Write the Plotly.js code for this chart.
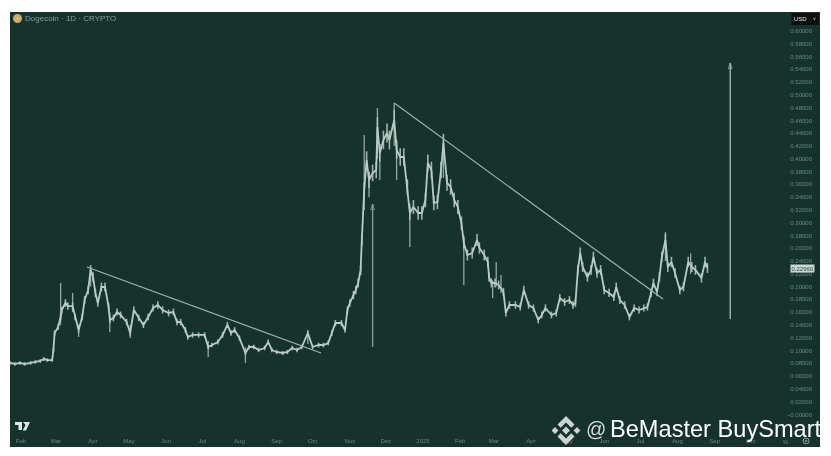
<!DOCTYPE html>
<html>
<head>
<meta charset="utf-8">
<script src="https://cdn.plot.ly/plotly-3.0.1.min.js"></script>
<style>html,body{margin:0;padding:0;background:#fff}#c{width:831px;height:456px;filter:blur(0.45px)}</style>
</head>
<body>
<div id="c"></div>
<script>
// Days counted from 2024-02-01, with the daily price read at that day
const days = [-9,-5,-1,3,8,12,16,19,22,26,27,28,31,33,34,37,39,43,45,48,51,53,56,58,60,62,64,67,70,73,74,77,80,83,88,91,94,98,102,106,110,114,118,123,127,130,133,137,139,143,148,153,156,159,164,168,172,175,178,182,187,190,194,198,203,206,209,213,218,222,226,230,234,239,243,248,252,256,259,262,267,270,272,274,277,279,281,283,284,286,288,290,293,296,297,299,302,305,307,311,313,316,319,322,324,327,331,334,337,339,342,344,347,350,352,355,358,361,364,367,369,372,376,380,382,386,389,390,392,395,398,402,404,407,412,416,419,423,427,431,434,437,442,446,449,453,457,460,462,464,466,468,472,475,477,480,483,486,490,494,496,499,503,507,511,515,519,522,525,527,530,532,534,537,539,542,545,549,552,556,559,562,567,570,572];
const closes = [0.0805,0.0789,0.0805,0.0789,0.0805,0.082,0.0836,0.0867,0.0851,0.0851,0.1008,0.1274,0.1368,0.1524,0.1634,0.1743,0.1696,0.1696,0.1524,0.1321,0.1524,0.179,0.1947,0.226,0.215,0.19,0.1743,0.1994,0.1994,0.1681,0.1477,0.1509,0.1603,0.1556,0.1446,0.1274,0.1634,0.1509,0.14,0.1524,0.1665,0.1712,0.1634,0.1587,0.1603,0.1446,0.1446,0.1321,0.1211,0.1243,0.1243,0.1243,0.1055,0.1086,0.1133,0.1243,0.14,0.1274,0.1321,0.1196,0.0961,0.1055,0.1055,0.1008,0.1039,0.1133,0.1008,0.0977,0.0961,0.0977,0.1039,0.1008,0.1055,0.1274,0.1055,0.1086,0.1086,0.1117,0.1274,0.143,0.143,0.1321,0.1634,0.1743,0.1868,0.1947,0.2056,0.226,0.2729,0.3512,0.3981,0.3668,0.3778,0.3825,0.4497,0.4091,0.4294,0.4404,0.4294,0.4607,0.4137,0.4028,0.4028,0.3559,0.3152,0.3246,0.3152,0.3152,0.3355,0.3934,0.3825,0.3308,0.3324,0.3825,0.4247,0.3622,0.3559,0.3355,0.3246,0.2995,0.2682,0.2494,0.2526,0.2729,0.2604,0.2494,0.2385,0.215,0.2056,0.2056,0.2025,0.1916,0.1587,0.1712,0.1712,0.1681,0.1947,0.1712,0.1665,0.1477,0.1556,0.1665,0.1556,0.1587,0.1822,0.1759,0.179,0.1712,0.1743,0.226,0.2526,0.2307,0.215,0.226,0.2463,0.2213,0.226,0.1947,0.19,0.1837,0.1994,0.179,0.1712,0.1524,0.1665,0.1634,0.1665,0.1681,0.19,0.2056,0.1916,0.215,0.2463,0.2729,0.2307,0.2385,0.2213,0.1947,0.1994,0.2385,0.2307,0.226,0.2135,0.2385,0.2291];

// Long wicks that stand out from the price band
const wickDays = [33,43,48,58,74,91,156,187,239,286,290,297,299,311,313,324,352,369,393,396,400,537,558];
const wickHigh = [0.2056,0.19,0.14,0.229,0.16,0.14,0.115,0.105,0.1305,0.4372,0.38,0.4795,0.42,0.4873,0.43,0.33,0.43,0.28,0.21,0.2385,0.218,0.2854,0.252];
const wickLow  = [0.14,0.16,0.1211,0.2,0.129,0.1196,0.0898,0.0804,0.11,0.32,0.34,0.4,0.3668,0.42,0.3668,0.262,0.37,0.2025,0.182,0.2,0.19,0.24,0.22];

// Trend lines and projection arrows: [start day, end day], [start price, end price]
const trend1Days = [55,250],  trend1Prices = [0.2307,0.0961];
const trend2Days = [311,535], trend2Prices = [0.4873,0.1806];
const arrow1Days = [293,293], arrow1Prices = [0.1055,0.3293];
const arrow2Days = [591,591], arrow2Prices = [0.1493,0.55];

const monthTicks  = ['2024-02-01','2024-03-01','2024-04-01','2024-05-01','2024-06-01','2024-07-01','2024-08-01','2024-09-01','2024-10-01','2024-11-01','2024-12-01','2025-01-01','2025-02-01','2025-03-01','2025-04-01','2025-05-01','2025-06-01','2025-07-01','2025-08-01','2025-09-01','2025-10-01'];
const monthLabels = ['Feb','Mar','Apr','May','Jun','Jul','Aug','Sep','Oct','Nov','Dec','2025','Feb','Mar','Apr','May','Jun','Jul','Aug','Sep','Oct'];
const priceTicks  = [0,0.02,0.04,0.06,0.08,0.10,0.12,0.14,0.16,0.18,0.20,0.22,0.24,0.26,0.28,0.30,0.32,0.34,0.36,0.38,0.40,0.42,0.44,0.46,0.48,0.50,0.52,0.54,0.56,0.58,0.60];
const priceLabels = ['\u22120.00000','0.02000','0.04000','0.06000','0.08000','0.10000','0.12000','0.14000','0.16000','0.18000','0.20000','0.22000','0.24000','0.26000','0.28000','0.30000','0.32000','0.34000','0.36000','0.38000','0.40000','0.42000','0.44000','0.46000','0.48000','0.50000','0.52000','0.54000','0.56000','0.58000','0.60000'];
const lastPrice = 0.22960;

const toDate = d => new Date(Date.UTC(2024,1,1) + d*864e5).toISOString().slice(0,19).replace('T',' ');
const BG='#15332c', PRICE='#b9cbc4', LINE='#9fb5ac', AXIS='#6d8a81';

// panel-relative placement for the overlay furniture
const PX=x=>(x-10)/810, PY=y=>1-(y-12)/435;
const poly=(pts,fill)=>({type:'path',xref:'paper',yref:'paper',layer:'above',fillcolor:fill,line:{width:0},
  path:'M'+pts.map(p=>PX(p[0]).toFixed(5)+','+PY(p[1]).toFixed(5)).join(' L')+' Z'});
const circle=(cx,cy,r,fill,stroke)=>({type:'circle',xref:'paper',yref:'paper',layer:'above',
  x0:PX(cx-r),x1:PX(cx+r),y0:PY(cy+r),y1:PY(cy-r),fillcolor:fill,line:{width:stroke?1:0,color:stroke||fill}});
const label=(x,y,text,size,color,anchor,extra)=>Object.assign({xref:'paper',yref:'paper',x:PX(x),y:PY(y),text:text,showarrow:false,
  xanchor:anchor||'left',yanchor:'middle',font:{size:size,color:color,family:'Liberation Sans, Arial, sans-serif'}},extra||{});

const cx=566, cy=430.5, LOGO='#ccd3d0';
const shapes=[
  circle(17.5,18.5,4.5,'#c9ae6c'),
  circle(17.5,18.5,0.8,'#e6d9b0'),
  circle(806,441,3,'rgba(0,0,0,0)','#8aa098'),
  circle(806,441,1,'rgba(0,0,0,0)','#8aa098'),
  // Binance mark
  poly([[cx,cy-4],[cx+4,cy],[cx,cy+4],[cx-4,cy]],LOGO),
  poly([[cx-11,cy-3.4],[cx-7.6,cy],[cx-11,cy+3.4],[cx-14.4,cy]],LOGO),
  poly([[cx+11,cy-3.4],[cx+14.4,cy],[cx+11,cy+3.4],[cx+7.6,cy]],LOGO),
  poly([[cx,cy-14.5],[cx+8.5,cy-6],[cx+5.3,cy-2.8],[cx,cy-8.1],[cx-5.3,cy-2.8],[cx-8.5,cy-6]],LOGO),
  poly([[cx,cy+14.5],[cx+8.5,cy+6],[cx+5.3,cy+2.8],[cx,cy+8.1],[cx-5.3,cy+2.8],[cx-8.5,cy+6]],LOGO),
  // TradingView mark
  poly([[15,422],[22,422],[22,430],[18.5,430],[18.5,425],[15,425]],'#dfe6e3'),
  poly([[23,422],[30,422],[26,430.5],[22.7,430.5],[25.6,425]],'#dfe6e3')
];

const annotations=[
  label(23,18.5,'Dogecoin \u00b7 1D \u00b7 CRYPTO',8,'#869c94'),
  label(792,19,'USD',6,'#e8ecea','left',{}),
  label(818,19,'\u02c5',5,'#e8ecea','right',{}),
  label(802.5,268,lastPrice.toFixed(5),6,'#33504a','center',{bgcolor:'#c9d6d1',borderpad:0.5}),
  label(786,441.5,'%',6,AXIS,'center'),
  label(595.5,428.5,'@',20,'#d9dedc','center'),
  label(608,428.5,'BeMaster BuySmart',23.6,'#ffffff','left',{width:240,align:'left'})
];
shapes.push({type:'rect',xref:'paper',yref:'paper',layer:'below',x0:PX(791.5),x1:PX(819),y0:PY(25),y1:PY(13),fillcolor:'#0c0f0e',line:{width:0}});

const traces=[
  {type:'ohlc',x:wickDays.map(toDate),open:wickHigh,high:wickHigh,low:wickLow,close:wickLow,tickwidth:0,
   increasing:{line:{color:'#93a9a1',width:1.3}},decreasing:{line:{color:'#93a9a1',width:1.3}},hoverinfo:'skip'},
  {type:'scatter',mode:'lines',x:days.map(toDate),y:closes,line:{color:PRICE,width:1.8},
   error_y:{type:'percent',value:3.4,color:'rgba(185,203,196,0.85)',thickness:1.6,width:0}},
  {type:'scatter',mode:'lines',x:trend1Days.map(toDate),y:trend1Prices,line:{color:LINE,width:1.2}},
  {type:'scatter',mode:'lines',x:trend2Days.map(toDate),y:trend2Prices,line:{color:LINE,width:1.2}},
  {type:'scatter',mode:'lines+markers',x:arrow1Days.map(toDate),y:arrow1Prices,line:{color:'#7f9a90',width:1.4},
   marker:{symbol:['line-ew','arrow-open'],size:[0,6],color:'#8fa89f',line:{width:1,color:'#8fa89f'}}},
  {type:'scatter',mode:'lines+markers',x:arrow2Days.map(toDate),y:arrow2Prices,line:{color:'#a9bdb5',width:1.3},
   marker:{symbol:['line-ew','arrow-open'],size:[0,6],color:'#a9bdb5',line:{width:1,color:'#a9bdb5'}}}
];

const layout={
  width:831,height:456,
  margin:{l:10,r:11,t:12,b:9,pad:0},
  paper_bgcolor:'#ffffff',plot_bgcolor:BG,showlegend:false,
  xaxis:{type:'date',range:[toDate(-9.17),toDate(665.8)],tickmode:'array',tickvals:monthTicks,ticktext:monthLabels,
    ticklabelposition:'inside',ticklen:0,ticklabelstandoff:0,showgrid:false,zeroline:false,showline:false,
    rangeslider:{visible:false},tickangle:0,ticklabeloverflow:'allow',tickfont:{size:6,color:AXIS,family:'Liberation Sans, Arial, sans-serif'}},
  yaxis:{side:'right',range:[-0.051,0.6297],tickmode:'array',tickvals:priceTicks,ticktext:priceLabels,
    ticklabelposition:'inside',ticklen:0,ticklabelstandoff:5,showgrid:false,zeroline:false,showline:false,
    ticklabeloverflow:'allow',tickfont:{size:6,color:AXIS,family:'Liberation Sans, Arial, sans-serif'}},
  shapes:shapes,annotations:annotations
};
Plotly.newPlot('c',traces,layout,{displayModeBar:false,staticPlot:true});
</script>
</body>
</html>
